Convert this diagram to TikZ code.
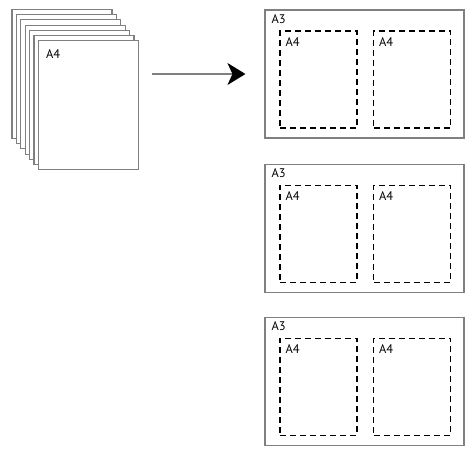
\documentclass[tikz,border=0pt]{standalone}
\usepackage{fontspec}
\setmainfont{PT Sans}
\usetikzlibrary{positioning,arrows.meta}
\begin{document}
\begin{tikzpicture}[x=1pt,y=-1pt,node distance=15pt,
    sheet/.style={draw=gray,fill=white,line width=1.1pt,inner sep=0pt,minimum width=100pt,minimum height=129pt},
    abox/.style={draw=gray,line width=1.1pt,inner sep=0pt,minimum width=199pt,minimum height=128pt},
    half/.style={draw=black,line width=1.5pt,dash pattern=on 6pt off 4pt,inner sep=0pt,minimum width=77pt,minimum height=97pt},
    lbl/.style={anchor=north west,inner sep=0pt,font=\fontsize{12.5}{14}\selectfont}]
%
   \useasboundingbox (0,0) rectangle (474,453);
   % stack of sheets
   \foreach \i in {0,...,6}
      \node[sheet] (S\i) at ({62+4.4*\i},{74+5.2*\i}) {};
   \node[lbl] (T0) at ([xshift=8pt,yshift=-9pt]S6.north west) {A4};
   % A3 boxes
   \node[abox]           (B1) at (364.5,74) {};
   \node[abox]           (B2) [below=25pt of B1] {};
   \node[abox]           (B3) [below=24pt of B2] {};
   \foreach \b in {1,2,3} {
      \node[lbl]                     (T\b) at ([xshift=7pt,yshift=-5pt]B\b.north west) {A3};
      \node[half,anchor=north west]  (L\b) at ([xshift=15pt,yshift=-21pt]B\b.north west) {};
      \node[half]                    (R\b) [right=of L\b] {};
      \node[lbl] at ([xshift=6pt,yshift=-7pt]L\b.north west) {A4};
      \node[lbl] at ([xshift=6pt,yshift=-7pt]R\b.north west) {A4};
   }
   \draw[gray,line width=1.3pt,-{Stealth[black,length=18pt,width=22pt,inset=5pt]}]
      ([xshift=13pt]S6.east |- B1.west) -- ([xshift=-19pt]B1.west);
\end{tikzpicture}
\end{document}
